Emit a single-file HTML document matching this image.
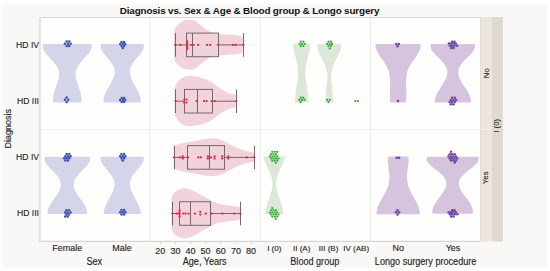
<!DOCTYPE html>
<html><head><meta charset="utf-8"><style>html,body{margin:0;padding:0;background:#fff;width:550px;height:271px;overflow:hidden}svg{display:block}</style></head>
<body><svg width="550" height="271" viewBox="0 0 550 271"><rect x="0" y="0" width="550" height="271" fill="#ffffff"/>
<rect x="2" y="3.5" width="545.5" height="264" fill="#f9f8f6"/>
<rect x="40" y="17.5" width="440.5" height="224" fill="#fefefd"/>
<line x1="149.75" y1="17.5" x2="149.75" y2="241.5" stroke="#ebebeb" stroke-width="1"/>
<line x1="260.25" y1="17.5" x2="260.25" y2="241.5" stroke="#ebebeb" stroke-width="1"/>
<line x1="370.5" y1="17.5" x2="370.5" y2="241.5" stroke="#ebebeb" stroke-width="1"/>
<line x1="39.5" y1="129.5" x2="480.5" y2="129.5" stroke="#ebebeb" stroke-width="1"/>
<path d="M40,241.5 L40,17.5 L480.5,17.5" fill="none" stroke="#d6d6d6" stroke-width="1.2"/>
<line x1="39.5" y1="241.3" x2="480.5" y2="241.3" stroke="#d6d6d6" stroke-width="1.2"/>
<rect x="480" y="17" width="12" height="224.5" fill="#ebe5de"/>
<rect x="492" y="17" width="11" height="224.5" fill="#dfd9cf"/>
<line x1="480" y1="129.5" x2="492" y2="129.5" stroke="#f4f0eb" stroke-width="1"/>
<line x1="480.5" y1="17" x2="480.5" y2="241.5" stroke="#e2ddd3" stroke-width="1"/>
<path d="M91.53,43.90 L91.73,44.88 L91.81,45.85 L91.77,46.83 L91.61,47.81 L91.34,48.78 L90.96,49.76 L90.47,50.74 L89.89,51.71 L89.23,52.69 L88.49,53.67 L87.69,54.64 L86.84,55.62 L85.96,56.60 L85.06,57.57 L84.14,58.55 L83.23,59.53 L82.34,60.50 L81.47,61.48 L80.63,62.46 L79.85,63.43 L79.11,64.41 L78.44,65.39 L77.83,66.36 L77.29,67.34 L76.82,68.32 L76.42,69.29 L76.09,70.27 L75.84,71.25 L75.66,72.22 L75.55,73.20 L75.50,74.18 L75.51,75.15 L75.58,76.13 L75.70,77.11 L75.87,78.08 L76.09,79.06 L76.33,80.04 L76.61,81.01 L76.92,81.99 L77.25,82.97 L77.59,83.94 L77.94,84.92 L78.29,85.90 L78.64,86.87 L78.99,87.85 L79.33,88.83 L79.66,89.80 L79.97,90.78 L80.25,91.76 L80.51,92.73 L80.75,93.71 L80.95,94.69 L81.12,95.66 L81.26,96.64 L81.36,97.62 L81.42,98.59 L81.45,99.57 L81.43,100.55 L81.38,101.52 L81.29,102.50 L53.21,102.50 L53.12,101.52 L53.07,100.55 L53.05,99.57 L53.08,98.59 L53.14,97.62 L53.24,96.64 L53.38,95.66 L53.55,94.69 L53.75,93.71 L53.99,92.73 L54.25,91.76 L54.53,90.78 L54.84,89.80 L55.17,88.83 L55.51,87.85 L55.86,86.87 L56.21,85.90 L56.56,84.92 L56.91,83.94 L57.25,82.97 L57.58,81.99 L57.89,81.01 L58.17,80.04 L58.41,79.06 L58.63,78.08 L58.80,77.11 L58.92,76.13 L58.99,75.15 L59.00,74.18 L58.95,73.20 L58.84,72.22 L58.66,71.25 L58.41,70.27 L58.08,69.29 L57.68,68.32 L57.21,67.34 L56.67,66.36 L56.06,65.39 L55.39,64.41 L54.65,63.43 L53.87,62.46 L53.03,61.48 L52.16,60.50 L51.27,59.53 L50.36,58.55 L49.44,57.57 L48.54,56.60 L47.66,55.62 L46.81,54.64 L46.01,53.67 L45.27,52.69 L44.61,51.71 L44.03,50.74 L43.54,49.76 L43.16,48.78 L42.89,47.81 L42.73,46.83 L42.69,45.85 L42.77,44.88 L42.97,43.90 Z" fill="#d5d5e9"/>
<path d="M143.60,44.00 L143.76,44.97 L143.80,45.95 L143.73,46.92 L143.54,47.89 L143.25,48.87 L142.85,49.84 L142.36,50.81 L141.78,51.79 L141.13,52.76 L140.41,53.73 L139.64,54.71 L138.84,55.68 L138.01,56.65 L137.18,57.63 L136.34,58.60 L135.52,59.57 L134.72,60.55 L133.96,61.52 L133.25,62.49 L132.59,63.47 L131.99,64.44 L131.46,65.41 L131.01,66.39 L130.62,67.36 L130.31,68.33 L130.08,69.31 L129.93,70.28 L129.85,71.25 L129.84,72.23 L129.91,73.20 L130.04,74.17 L130.24,75.15 L130.49,76.12 L130.80,77.09 L131.16,78.07 L131.56,79.04 L132.01,80.01 L132.48,80.99 L132.98,81.96 L133.50,82.93 L134.04,83.91 L134.59,84.88 L135.15,85.85 L135.70,86.83 L136.25,87.80 L136.78,88.77 L137.30,89.75 L137.80,90.72 L138.28,91.69 L138.72,92.67 L139.13,93.64 L139.50,94.61 L139.83,95.59 L140.11,96.56 L140.35,97.53 L140.54,98.51 L140.68,99.48 L140.76,100.45 L140.79,101.43 L140.77,102.40 L103.63,102.40 L103.61,101.43 L103.64,100.45 L103.72,99.48 L103.86,98.51 L104.05,97.53 L104.29,96.56 L104.57,95.59 L104.90,94.61 L105.27,93.64 L105.68,92.67 L106.12,91.69 L106.60,90.72 L107.10,89.75 L107.62,88.77 L108.15,87.80 L108.70,86.83 L109.25,85.85 L109.81,84.88 L110.36,83.91 L110.90,82.93 L111.42,81.96 L111.92,80.99 L112.39,80.01 L112.84,79.04 L113.24,78.07 L113.60,77.09 L113.91,76.12 L114.16,75.15 L114.36,74.17 L114.49,73.20 L114.56,72.23 L114.55,71.25 L114.47,70.28 L114.32,69.31 L114.09,68.33 L113.78,67.36 L113.39,66.39 L112.94,65.41 L112.41,64.44 L111.81,63.47 L111.15,62.49 L110.44,61.52 L109.68,60.55 L108.88,59.57 L108.06,58.60 L107.22,57.63 L106.39,56.65 L105.56,55.68 L104.76,54.71 L103.99,53.73 L103.27,52.76 L102.62,51.79 L102.04,50.81 L101.55,49.84 L101.15,48.87 L100.86,47.89 L100.67,46.92 L100.60,45.95 L100.64,44.97 L100.80,44.00 Z" fill="#d5d5e9"/>
<path d="M89.68,156.80 L89.88,157.75 L89.96,158.71 L89.90,159.66 L89.72,160.61 L89.42,161.57 L89.00,162.52 L88.46,163.47 L87.83,164.43 L87.11,165.38 L86.32,166.33 L85.46,167.29 L84.56,168.24 L83.62,169.19 L82.66,170.15 L81.71,171.10 L80.76,172.05 L79.83,173.01 L78.94,173.96 L78.10,174.91 L77.31,175.87 L76.59,176.82 L75.94,177.77 L75.36,178.73 L74.87,179.68 L74.46,180.63 L74.14,181.59 L73.91,182.54 L73.76,183.49 L73.70,184.45 L73.72,185.40 L73.82,186.35 L74.00,187.31 L74.26,188.26 L74.58,189.21 L74.97,190.17 L75.41,191.12 L75.91,192.07 L76.45,193.03 L77.04,193.98 L77.66,194.93 L78.31,195.89 L78.99,196.84 L79.67,197.79 L80.37,198.75 L81.06,199.70 L81.75,200.65 L82.42,201.61 L83.07,202.56 L83.69,203.51 L84.28,204.47 L84.83,205.42 L85.33,206.37 L85.78,207.33 L86.16,208.28 L86.49,209.23 L86.75,210.19 L86.94,211.14 L87.06,212.09 L87.10,213.05 L87.08,214.00 L47.52,214.00 L47.50,213.05 L47.54,212.09 L47.66,211.14 L47.85,210.19 L48.11,209.23 L48.44,208.28 L48.82,207.33 L49.27,206.37 L49.77,205.42 L50.32,204.47 L50.91,203.51 L51.53,202.56 L52.18,201.61 L52.85,200.65 L53.54,199.70 L54.23,198.75 L54.93,197.79 L55.61,196.84 L56.29,195.89 L56.94,194.93 L57.56,193.98 L58.15,193.03 L58.69,192.07 L59.19,191.12 L59.63,190.17 L60.02,189.21 L60.34,188.26 L60.60,187.31 L60.78,186.35 L60.88,185.40 L60.90,184.45 L60.84,183.49 L60.69,182.54 L60.46,181.59 L60.14,180.63 L59.73,179.68 L59.24,178.73 L58.66,177.77 L58.01,176.82 L57.29,175.87 L56.50,174.91 L55.66,173.96 L54.77,173.01 L53.84,172.05 L52.89,171.10 L51.94,170.15 L50.98,169.19 L50.04,168.24 L49.14,167.29 L48.28,166.33 L47.49,165.38 L46.77,164.43 L46.14,163.47 L45.60,162.52 L45.18,161.57 L44.88,160.61 L44.70,159.66 L44.64,158.71 L44.72,157.75 L44.92,156.80 Z" fill="#d5d5e9"/>
<path d="M143.58,156.70 L143.75,157.66 L143.80,158.61 L143.73,159.57 L143.55,160.53 L143.26,161.48 L142.86,162.44 L142.37,163.40 L141.79,164.35 L141.14,165.31 L140.42,166.27 L139.65,167.22 L138.85,168.18 L138.02,169.14 L137.18,170.09 L136.35,171.05 L135.53,172.01 L134.74,172.96 L133.99,173.92 L133.28,174.88 L132.63,175.83 L132.04,176.79 L131.52,177.75 L131.07,178.70 L130.70,179.66 L130.40,180.62 L130.17,181.57 L130.02,182.53 L129.94,183.49 L129.93,184.44 L129.99,185.40 L130.11,186.36 L130.29,187.31 L130.53,188.27 L130.81,189.23 L131.14,190.18 L131.52,191.14 L131.92,192.10 L132.36,193.05 L132.83,194.01 L133.31,194.97 L133.81,195.92 L134.32,196.88 L134.84,197.84 L135.36,198.79 L135.87,199.75 L136.38,200.71 L136.88,201.66 L137.36,202.62 L137.83,203.58 L138.27,204.53 L138.68,205.49 L139.07,206.45 L139.42,207.40 L139.73,208.36 L140.01,209.32 L140.25,210.27 L140.45,211.23 L140.60,212.19 L140.71,213.14 L140.77,214.10 L103.63,214.10 L103.69,213.14 L103.80,212.19 L103.95,211.23 L104.15,210.27 L104.39,209.32 L104.67,208.36 L104.98,207.40 L105.33,206.45 L105.72,205.49 L106.13,204.53 L106.57,203.58 L107.04,202.62 L107.52,201.66 L108.02,200.71 L108.53,199.75 L109.04,198.79 L109.56,197.84 L110.08,196.88 L110.59,195.92 L111.09,194.97 L111.57,194.01 L112.04,193.05 L112.48,192.10 L112.88,191.14 L113.26,190.18 L113.59,189.23 L113.87,188.27 L114.11,187.31 L114.29,186.36 L114.41,185.40 L114.47,184.44 L114.46,183.49 L114.38,182.53 L114.23,181.57 L114.00,180.62 L113.70,179.66 L113.33,178.70 L112.88,177.75 L112.36,176.79 L111.77,175.83 L111.12,174.88 L110.41,173.92 L109.66,172.96 L108.87,172.01 L108.05,171.05 L107.22,170.09 L106.38,169.14 L105.55,168.18 L104.75,167.22 L103.98,166.27 L103.26,165.31 L102.61,164.35 L102.03,163.40 L101.54,162.44 L101.14,161.48 L100.85,160.53 L100.67,159.57 L100.60,158.61 L100.65,157.66 L100.82,156.70 Z" fill="#d5d5e9"/>
<path d="M174.10,30.70 C174.28,30.27 174.72,28.93 175.20,28.10 C175.68,27.27 176.20,26.57 177.00,25.70 C177.80,24.83 178.92,23.73 180.00,22.90 C181.08,22.07 182.33,21.22 183.50,20.70 C184.67,20.18 185.75,19.97 187.00,19.80 C188.25,19.63 189.83,19.63 191.00,19.70 C192.17,19.77 193.00,19.78 194.00,20.20 C195.00,20.62 195.92,21.38 197.00,22.20 C198.08,23.02 199.33,24.12 200.50,25.10 C201.67,26.08 203.00,27.33 204.00,28.10 C205.00,28.87 205.60,29.12 206.50,29.70 C207.40,30.28 208.15,31.03 209.40,31.60 C210.65,32.17 212.30,32.70 214.00,33.10 C215.70,33.50 217.80,33.78 219.60,34.00 C221.40,34.22 222.72,34.27 224.80,34.40 C226.88,34.53 229.90,34.62 232.10,34.80 C234.30,34.98 236.52,35.27 238.00,35.50 C239.48,35.73 240.23,35.97 241.00,36.20 C241.77,36.43 242.33,36.78 242.60,36.90 L242.60,52.50 C242.33,52.62 241.77,52.97 241.00,53.20 C240.23,53.43 239.48,53.67 238.00,53.90 C236.52,54.13 234.30,54.42 232.10,54.60 C229.90,54.78 226.88,54.87 224.80,55.00 C222.72,55.13 221.40,55.18 219.60,55.40 C217.80,55.62 215.70,55.90 214.00,56.30 C212.30,56.70 210.65,57.23 209.40,57.80 C208.15,58.37 207.40,59.12 206.50,59.70 C205.60,60.28 205.00,60.53 204.00,61.30 C203.00,62.07 201.67,63.32 200.50,64.30 C199.33,65.28 198.08,66.38 197.00,67.20 C195.92,68.02 195.00,68.78 194.00,69.20 C193.00,69.62 192.17,69.63 191.00,69.70 C189.83,69.77 188.25,69.77 187.00,69.60 C185.75,69.43 184.67,69.22 183.50,68.70 C182.33,68.18 181.08,67.33 180.00,66.50 C178.92,65.67 177.80,64.57 177.00,63.70 C176.20,62.83 175.68,62.13 175.20,61.30 C174.72,60.47 174.28,59.13 174.10,58.70 Z" fill="#f3d3db"/>
<path d="M174.60,88.10 C174.78,87.60 175.18,86.12 175.70,85.10 C176.22,84.08 176.93,82.95 177.70,82.00 C178.47,81.05 179.35,80.15 180.30,79.40 C181.25,78.65 182.37,78.02 183.40,77.50 C184.43,76.98 185.28,76.57 186.50,76.30 C187.72,76.03 189.15,75.85 190.70,75.90 C192.25,75.95 194.08,76.30 195.80,76.60 C197.52,76.90 199.30,77.22 201.00,77.70 C202.70,78.18 204.58,78.97 206.00,79.50 C207.42,80.03 208.32,80.30 209.50,80.90 C210.68,81.50 211.92,82.30 213.10,83.10 C214.28,83.90 215.42,84.82 216.60,85.70 C217.78,86.58 219.02,87.58 220.20,88.40 C221.38,89.22 222.53,89.93 223.70,90.60 C224.87,91.27 226.02,91.88 227.20,92.40 C228.38,92.92 229.62,93.33 230.80,93.70 C231.98,94.07 233.47,94.40 234.30,94.60 C235.13,94.80 235.55,94.85 235.80,94.90 L235.80,107.30 C235.55,107.35 235.13,107.40 234.30,107.60 C233.47,107.80 231.98,108.13 230.80,108.50 C229.62,108.87 228.38,109.28 227.20,109.80 C226.02,110.32 224.87,110.93 223.70,111.60 C222.53,112.27 221.38,112.98 220.20,113.80 C219.02,114.62 217.78,115.62 216.60,116.50 C215.42,117.38 214.28,118.30 213.10,119.10 C211.92,119.90 210.68,120.70 209.50,121.30 C208.32,121.90 207.42,122.17 206.00,122.70 C204.58,123.23 202.70,124.02 201.00,124.50 C199.30,124.98 197.52,125.30 195.80,125.60 C194.08,125.90 192.25,126.25 190.70,126.30 C189.15,126.35 187.72,126.17 186.50,125.90 C185.28,125.63 184.43,125.22 183.40,124.70 C182.37,124.18 181.25,123.55 180.30,122.80 C179.35,122.05 178.47,121.15 177.70,120.20 C176.93,119.25 176.22,118.12 175.70,117.10 C175.18,116.08 174.78,114.60 174.60,114.10 Z" fill="#f3d3db"/>
<path d="M173.80,147.30 C174.03,147.02 174.45,146.15 175.20,145.60 C175.95,145.05 176.93,144.43 178.30,144.00 C179.67,143.57 181.68,143.33 183.40,143.00 C185.12,142.67 186.70,142.32 188.60,142.00 C190.50,141.68 192.73,141.48 194.80,141.10 C196.87,140.72 198.93,140.10 201.00,139.70 C203.07,139.30 205.37,138.95 207.20,138.70 C209.03,138.45 210.52,138.22 212.00,138.20 C213.48,138.18 214.72,138.35 216.10,138.60 C217.48,138.85 218.92,139.23 220.30,139.70 C221.68,140.17 223.03,140.73 224.40,141.40 C225.77,142.07 227.12,142.93 228.50,143.70 C229.88,144.47 231.13,145.23 232.70,146.00 C234.27,146.77 236.18,147.62 237.90,148.30 C239.62,148.98 241.28,149.58 243.00,150.10 C244.72,150.62 246.47,150.97 248.20,151.40 C249.93,151.83 252.33,152.43 253.40,152.70 C254.47,152.97 254.40,152.95 254.60,153.00 L254.60,161.40 C254.40,161.45 254.47,161.43 253.40,161.70 C252.33,161.97 249.93,162.57 248.20,163.00 C246.47,163.43 244.72,163.78 243.00,164.30 C241.28,164.82 239.62,165.42 237.90,166.10 C236.18,166.78 234.27,167.63 232.70,168.40 C231.13,169.17 229.88,169.93 228.50,170.70 C227.12,171.47 225.77,172.33 224.40,173.00 C223.03,173.67 221.68,174.23 220.30,174.70 C218.92,175.17 217.48,175.55 216.10,175.80 C214.72,176.05 213.48,176.22 212.00,176.20 C210.52,176.18 209.03,175.95 207.20,175.70 C205.37,175.45 203.07,175.10 201.00,174.70 C198.93,174.30 196.87,173.68 194.80,173.30 C192.73,172.92 190.50,172.72 188.60,172.40 C186.70,172.08 185.12,171.73 183.40,171.40 C181.68,171.07 179.67,170.83 178.30,170.40 C176.93,169.97 175.95,169.35 175.20,168.80 C174.45,168.25 174.03,167.38 173.80,167.10 Z" fill="#f3d3db"/>
<path d="M171.60,199.05 C171.72,198.45 171.82,196.53 172.30,195.45 C172.78,194.37 173.62,193.42 174.50,192.55 C175.38,191.68 176.45,190.88 177.60,190.25 C178.75,189.62 180.17,189.07 181.40,188.75 C182.63,188.43 183.65,188.28 185.00,188.35 C186.35,188.42 187.92,188.65 189.50,189.15 C191.08,189.65 192.83,190.50 194.50,191.35 C196.17,192.20 197.83,193.33 199.50,194.25 C201.17,195.17 202.88,195.97 204.50,196.85 C206.12,197.73 207.70,198.72 209.20,199.55 C210.70,200.38 212.08,201.22 213.50,201.85 C214.92,202.48 216.28,202.93 217.70,203.35 C219.12,203.77 220.43,204.03 222.00,204.35 C223.57,204.67 225.40,204.98 227.10,205.25 C228.80,205.52 230.50,205.73 232.20,205.95 C233.90,206.17 236.00,206.40 237.30,206.55 C238.60,206.70 239.55,206.80 240.00,206.85 L240.00,219.85 C239.55,219.90 238.60,220.00 237.30,220.15 C236.00,220.30 233.90,220.53 232.20,220.75 C230.50,220.97 228.80,221.18 227.10,221.45 C225.40,221.72 223.57,222.03 222.00,222.35 C220.43,222.67 219.12,222.93 217.70,223.35 C216.28,223.77 214.92,224.22 213.50,224.85 C212.08,225.48 210.70,226.32 209.20,227.15 C207.70,227.98 206.12,228.97 204.50,229.85 C202.88,230.73 201.17,231.53 199.50,232.45 C197.83,233.37 196.17,234.50 194.50,235.35 C192.83,236.20 191.08,237.05 189.50,237.55 C187.92,238.05 186.35,238.28 185.00,238.35 C183.65,238.42 182.63,238.27 181.40,237.95 C180.17,237.63 178.75,237.08 177.60,236.45 C176.45,235.82 175.38,235.02 174.50,234.15 C173.62,233.28 172.78,232.33 172.30,231.25 C171.82,230.17 171.72,228.25 171.60,227.65 Z" fill="#f3d3db"/>
<line x1="175.5" y1="44.9" x2="186.5" y2="44.9" stroke="#76676c" stroke-width="1"/><line x1="218.5" y1="44.9" x2="243.5" y2="44.9" stroke="#76676c" stroke-width="1"/><line x1="175.5" y1="33.099999999999994" x2="175.5" y2="56.7" stroke="#76676c" stroke-width="1"/><line x1="243.5" y1="33.099999999999994" x2="243.5" y2="56.7" stroke="#76676c" stroke-width="1"/><rect x="186.5" y="33.099999999999994" width="32.0" height="23.6" fill="none" stroke="#76676c" stroke-width="1"/><line x1="192.5" y1="33.099999999999994" x2="192.5" y2="56.7" stroke="#76676c" stroke-width="1"/>
<line x1="175.5" y1="101.2" x2="184.5" y2="101.2" stroke="#76676c" stroke-width="1"/><line x1="212.5" y1="101.2" x2="236.5" y2="101.2" stroke="#76676c" stroke-width="1"/><line x1="175.5" y1="89.4" x2="175.5" y2="113.0" stroke="#76676c" stroke-width="1"/><line x1="236.5" y1="89.4" x2="236.5" y2="113.0" stroke="#76676c" stroke-width="1"/><rect x="184.5" y="89.4" width="28.0" height="23.6" fill="none" stroke="#76676c" stroke-width="1"/><line x1="197.5" y1="89.4" x2="197.5" y2="113.0" stroke="#76676c" stroke-width="1"/>
<line x1="174.5" y1="157.4" x2="187.5" y2="157.4" stroke="#76676c" stroke-width="1"/><line x1="224.5" y1="157.4" x2="254.5" y2="157.4" stroke="#76676c" stroke-width="1"/><line x1="174.5" y1="145.6" x2="174.5" y2="169.20000000000002" stroke="#76676c" stroke-width="1"/><line x1="254.5" y1="145.6" x2="254.5" y2="169.20000000000002" stroke="#76676c" stroke-width="1"/><rect x="187.5" y="145.6" width="37.0" height="23.6" fill="none" stroke="#76676c" stroke-width="1"/><line x1="209.5" y1="145.6" x2="209.5" y2="169.20000000000002" stroke="#76676c" stroke-width="1"/>
<line x1="172.5" y1="213.5" x2="179.5" y2="213.5" stroke="#76676c" stroke-width="1"/><line x1="210.5" y1="213.5" x2="240.5" y2="213.5" stroke="#76676c" stroke-width="1"/><line x1="172.5" y1="201.7" x2="172.5" y2="225.3" stroke="#76676c" stroke-width="1"/><line x1="240.5" y1="201.7" x2="240.5" y2="225.3" stroke="#76676c" stroke-width="1"/><rect x="179.5" y="201.7" width="31.0" height="23.6" fill="none" stroke="#76676c" stroke-width="1"/><line x1="190.5" y1="201.7" x2="190.5" y2="225.3" stroke="#76676c" stroke-width="1"/>
<circle cx="175.30" cy="44.90" r="1.15" fill="#d62a48"/><circle cx="180.40" cy="44.90" r="1.15" fill="#d62a48"/><circle cx="190.70" cy="44.90" r="1.15" fill="#d62a48"/><circle cx="193.60" cy="44.90" r="1.15" fill="#d62a48"/><circle cx="198.10" cy="44.90" r="1.15" fill="#d62a48"/><circle cx="207.00" cy="44.90" r="1.15" fill="#d62a48"/><circle cx="210.30" cy="44.90" r="1.15" fill="#d62a48"/><circle cx="218.10" cy="44.90" r="1.15" fill="#d62a48"/><circle cx="232.80" cy="44.90" r="1.15" fill="#d62a48"/><circle cx="235.60" cy="44.90" r="1.15" fill="#d62a48"/><circle cx="243.30" cy="44.90" r="1.15" fill="#d62a48"/><circle cx="187.20" cy="41.50" r="1.15" fill="#d62a48"/><circle cx="187.20" cy="43.40" r="1.15" fill="#d62a48"/><circle cx="187.20" cy="45.30" r="1.15" fill="#d62a48"/><circle cx="187.20" cy="47.20" r="1.15" fill="#d62a48"/><circle cx="187.20" cy="49.00" r="1.15" fill="#d62a48"/><circle cx="175.50" cy="101.10" r="1.15" fill="#d62a48"/><circle cx="196.60" cy="101.10" r="1.15" fill="#d62a48"/><circle cx="204.10" cy="101.10" r="1.15" fill="#d62a48"/><circle cx="206.60" cy="101.10" r="1.15" fill="#d62a48"/><circle cx="211.60" cy="101.10" r="1.15" fill="#d62a48"/><circle cx="214.70" cy="101.10" r="1.15" fill="#d62a48"/><circle cx="236.20" cy="101.10" r="1.15" fill="#d62a48"/><circle cx="184.30" cy="99.60" r="1.15" fill="#d62a48"/><circle cx="186.50" cy="99.60" r="1.15" fill="#d62a48"/><circle cx="184.30" cy="102.60" r="1.15" fill="#d62a48"/><circle cx="186.50" cy="102.60" r="1.15" fill="#d62a48"/><circle cx="174.10" cy="157.40" r="1.15" fill="#d62a48"/><circle cx="179.80" cy="157.40" r="1.15" fill="#d62a48"/><circle cx="188.00" cy="157.40" r="1.15" fill="#d62a48"/><circle cx="198.30" cy="157.40" r="1.15" fill="#d62a48"/><circle cx="200.80" cy="157.40" r="1.15" fill="#d62a48"/><circle cx="210.90" cy="157.40" r="1.15" fill="#d62a48"/><circle cx="246.60" cy="157.40" r="1.15" fill="#d62a48"/><circle cx="254.30" cy="157.40" r="1.15" fill="#d62a48"/><circle cx="182.80" cy="156.30" r="1.15" fill="#d62a48"/><circle cx="182.80" cy="158.50" r="1.15" fill="#d62a48"/><circle cx="207.90" cy="156.30" r="1.15" fill="#d62a48"/><circle cx="207.90" cy="158.50" r="1.15" fill="#d62a48"/><circle cx="214.60" cy="156.30" r="1.15" fill="#d62a48"/><circle cx="214.60" cy="158.50" r="1.15" fill="#d62a48"/><circle cx="222.30" cy="156.30" r="1.15" fill="#d62a48"/><circle cx="222.30" cy="158.50" r="1.15" fill="#d62a48"/><circle cx="228.30" cy="156.30" r="1.15" fill="#d62a48"/><circle cx="228.30" cy="158.50" r="1.15" fill="#d62a48"/><circle cx="172.40" cy="213.60" r="1.15" fill="#d62a48"/><circle cx="176.80" cy="213.60" r="1.15" fill="#d62a48"/><circle cx="183.30" cy="213.60" r="1.15" fill="#d62a48"/><circle cx="185.50" cy="213.60" r="1.15" fill="#d62a48"/><circle cx="188.40" cy="213.60" r="1.15" fill="#d62a48"/><circle cx="194.90" cy="213.60" r="1.15" fill="#d62a48"/><circle cx="205.80" cy="213.60" r="1.15" fill="#d62a48"/><circle cx="211.60" cy="213.60" r="1.15" fill="#d62a48"/><circle cx="222.50" cy="213.60" r="1.15" fill="#d62a48"/><circle cx="234.20" cy="213.60" r="1.15" fill="#d62a48"/><circle cx="240.40" cy="213.60" r="1.15" fill="#d62a48"/><circle cx="179.60" cy="210.30" r="1.15" fill="#d62a48"/><circle cx="179.60" cy="212.30" r="1.15" fill="#d62a48"/><circle cx="179.60" cy="214.50" r="1.15" fill="#d62a48"/><circle cx="179.60" cy="216.70" r="1.15" fill="#d62a48"/><circle cx="200.30" cy="211.80" r="1.15" fill="#d62a48"/><circle cx="200.30" cy="214.60" r="1.15" fill="#d62a48"/>
<path d="M310.22,44.10 L310.22,45.08 L310.17,46.05 L310.09,47.02 L309.98,48.00 L309.84,48.98 L309.66,49.95 L309.47,50.92 L309.25,51.90 L309.01,52.88 L308.76,53.85 L308.49,54.83 L308.22,55.80 L307.95,56.77 L307.67,57.75 L307.40,58.73 L307.14,59.70 L306.89,60.67 L306.65,61.65 L306.42,62.62 L306.22,63.60 L306.03,64.58 L305.87,65.55 L305.72,66.53 L305.60,67.50 L305.50,68.47 L305.43,69.45 L305.37,70.42 L305.34,71.40 L305.33,72.38 L305.34,73.35 L305.37,74.33 L305.42,75.30 L305.49,76.28 L305.57,77.25 L305.66,78.22 L305.77,79.20 L305.88,80.17 L306.01,81.15 L306.14,82.12 L306.28,83.10 L306.43,84.07 L306.57,85.05 L306.72,86.02 L306.87,87.00 L307.02,87.97 L307.17,88.95 L307.31,89.92 L307.45,90.90 L307.59,91.88 L307.71,92.85 L307.83,93.82 L307.95,94.80 L308.05,95.77 L308.14,96.75 L308.23,97.72 L308.30,98.70 L308.36,99.67 L308.41,100.65 L308.45,101.62 L308.47,102.60 L294.93,102.60 L294.95,101.62 L294.99,100.65 L295.04,99.67 L295.10,98.70 L295.17,97.72 L295.26,96.75 L295.35,95.77 L295.45,94.80 L295.57,93.82 L295.69,92.85 L295.81,91.88 L295.95,90.90 L296.09,89.92 L296.23,88.95 L296.38,87.97 L296.53,87.00 L296.68,86.02 L296.83,85.05 L296.97,84.07 L297.12,83.10 L297.26,82.12 L297.39,81.15 L297.52,80.17 L297.63,79.20 L297.74,78.22 L297.83,77.25 L297.91,76.28 L297.98,75.30 L298.03,74.33 L298.06,73.35 L298.07,72.38 L298.06,71.40 L298.03,70.42 L297.97,69.45 L297.90,68.47 L297.80,67.50 L297.68,66.53 L297.53,65.55 L297.37,64.58 L297.18,63.60 L296.98,62.62 L296.75,61.65 L296.51,60.67 L296.26,59.70 L296.00,58.73 L295.73,57.75 L295.45,56.77 L295.18,55.80 L294.91,54.83 L294.64,53.85 L294.39,52.88 L294.15,51.90 L293.93,50.92 L293.74,49.95 L293.56,48.98 L293.42,48.00 L293.31,47.02 L293.23,46.05 L293.18,45.08 L293.18,44.10 Z" fill="#dce7d7"/>
<path d="M341.19,44.20 L341.22,45.17 L341.18,46.14 L341.08,47.12 L340.93,48.09 L340.71,49.06 L340.44,50.03 L340.13,51.00 L339.76,51.97 L339.36,52.95 L338.93,53.92 L338.47,54.89 L337.98,55.86 L337.49,56.83 L336.98,57.80 L336.47,58.78 L335.97,59.75 L335.47,60.72 L334.99,61.69 L334.53,62.66 L334.08,63.63 L333.67,64.61 L333.28,65.58 L332.92,66.55 L332.59,67.52 L332.30,68.49 L332.03,69.46 L331.81,70.44 L331.61,71.41 L331.45,72.38 L331.31,73.35 L331.21,74.32 L331.14,75.29 L331.09,76.27 L331.07,77.24 L331.07,78.21 L331.09,79.18 L331.13,80.15 L331.19,81.12 L331.27,82.09 L331.35,83.07 L331.45,84.04 L331.56,85.01 L331.67,85.98 L331.79,86.95 L331.91,87.93 L332.03,88.90 L332.14,89.87 L332.26,90.84 L332.37,91.81 L332.48,92.78 L332.58,93.75 L332.67,94.73 L332.74,95.70 L332.81,96.67 L332.87,97.64 L332.91,98.61 L332.93,99.59 L332.95,100.56 L332.95,101.53 L332.93,102.50 L325.47,102.50 L325.45,101.53 L325.45,100.56 L325.47,99.59 L325.49,98.61 L325.53,97.64 L325.59,96.67 L325.66,95.70 L325.73,94.73 L325.82,93.75 L325.92,92.78 L326.03,91.81 L326.14,90.84 L326.26,89.87 L326.37,88.90 L326.49,87.93 L326.61,86.95 L326.73,85.98 L326.84,85.01 L326.95,84.04 L327.05,83.07 L327.13,82.09 L327.21,81.12 L327.27,80.15 L327.31,79.18 L327.33,78.21 L327.33,77.24 L327.31,76.27 L327.26,75.29 L327.19,74.32 L327.09,73.35 L326.95,72.38 L326.79,71.41 L326.59,70.44 L326.37,69.46 L326.10,68.49 L325.81,67.52 L325.48,66.55 L325.12,65.58 L324.73,64.61 L324.32,63.63 L323.87,62.66 L323.41,61.69 L322.93,60.72 L322.43,59.75 L321.93,58.78 L321.42,57.80 L320.91,56.83 L320.42,55.86 L319.93,54.89 L319.47,53.92 L319.04,52.95 L318.64,51.97 L318.27,51.00 L317.96,50.03 L317.69,49.06 L317.47,48.09 L317.32,47.12 L317.22,46.14 L317.18,45.17 L317.21,44.20 Z" fill="#dce7d7"/>
<path d="M284.98,156.60 L284.86,157.56 L284.68,158.52 L284.44,159.47 L284.16,160.43 L283.83,161.39 L283.45,162.35 L283.05,163.31 L282.61,164.27 L282.16,165.22 L281.68,166.18 L281.20,167.14 L280.72,168.10 L280.25,169.06 L279.78,170.02 L279.33,170.97 L278.89,171.93 L278.48,172.89 L278.10,173.85 L277.75,174.81 L277.43,175.77 L277.14,176.72 L276.89,177.68 L276.68,178.64 L276.50,179.60 L276.36,180.56 L276.26,181.52 L276.19,182.47 L276.15,183.43 L276.16,184.39 L276.19,185.35 L276.26,186.31 L276.36,187.27 L276.49,188.22 L276.65,189.18 L276.84,190.14 L277.05,191.10 L277.29,192.06 L277.54,193.02 L277.82,193.97 L278.12,194.93 L278.44,195.89 L278.76,196.85 L279.10,197.81 L279.45,198.77 L279.80,199.72 L280.15,200.68 L280.50,201.64 L280.84,202.60 L281.17,203.56 L281.49,204.52 L281.79,205.47 L282.08,206.43 L282.33,207.39 L282.57,208.35 L282.77,209.31 L282.94,210.27 L283.08,211.22 L283.18,212.18 L283.24,213.14 L283.26,214.10 L265.34,214.10 L265.36,213.14 L265.42,212.18 L265.52,211.22 L265.66,210.27 L265.83,209.31 L266.03,208.35 L266.27,207.39 L266.52,206.43 L266.81,205.47 L267.11,204.52 L267.43,203.56 L267.76,202.60 L268.10,201.64 L268.45,200.68 L268.80,199.72 L269.15,198.77 L269.50,197.81 L269.84,196.85 L270.16,195.89 L270.48,194.93 L270.78,193.97 L271.06,193.02 L271.31,192.06 L271.55,191.10 L271.76,190.14 L271.95,189.18 L272.11,188.22 L272.24,187.27 L272.34,186.31 L272.41,185.35 L272.44,184.39 L272.45,183.43 L272.41,182.47 L272.34,181.52 L272.24,180.56 L272.10,179.60 L271.92,178.64 L271.71,177.68 L271.46,176.72 L271.17,175.77 L270.85,174.81 L270.50,173.85 L270.12,172.89 L269.71,171.93 L269.27,170.97 L268.82,170.02 L268.35,169.06 L267.88,168.10 L267.40,167.14 L266.92,166.18 L266.44,165.22 L265.99,164.27 L265.55,163.31 L265.15,162.35 L264.77,161.39 L264.44,160.43 L264.16,159.47 L263.92,158.52 L263.74,157.56 L263.62,156.60 Z" fill="#dce7d7"/>
<path d="M420.45,44.00 L420.56,44.98 L420.57,45.95 L420.50,46.93 L420.34,47.91 L420.10,48.88 L419.78,49.86 L419.39,50.84 L418.93,51.81 L418.41,52.79 L417.85,53.77 L417.24,54.74 L416.60,55.72 L415.93,56.70 L415.25,57.67 L414.56,58.65 L413.87,59.63 L413.18,60.60 L412.51,61.58 L411.86,62.56 L411.23,63.53 L410.63,64.51 L410.07,65.49 L409.54,66.46 L409.05,67.44 L408.61,68.42 L408.20,69.39 L407.83,70.37 L407.51,71.35 L407.22,72.32 L406.98,73.30 L406.77,74.28 L406.59,75.25 L406.45,76.23 L406.33,77.21 L406.24,78.18 L406.18,79.16 L406.13,80.14 L406.11,81.11 L406.09,82.09 L406.10,83.07 L406.11,84.04 L406.13,85.02 L406.15,86.00 L406.18,86.97 L406.21,87.95 L406.24,88.93 L406.27,89.90 L406.30,90.88 L406.32,91.86 L406.34,92.83 L406.35,93.81 L406.36,94.79 L406.36,95.76 L406.35,96.74 L406.33,97.72 L406.31,98.69 L406.27,99.67 L406.23,100.65 L406.18,101.62 L406.12,102.60 L390.08,102.60 L390.02,101.62 L389.97,100.65 L389.93,99.67 L389.89,98.69 L389.87,97.72 L389.85,96.74 L389.84,95.76 L389.84,94.79 L389.85,93.81 L389.86,92.83 L389.88,91.86 L389.90,90.88 L389.93,89.90 L389.96,88.93 L389.99,87.95 L390.02,86.97 L390.05,86.00 L390.07,85.02 L390.09,84.04 L390.10,83.07 L390.11,82.09 L390.09,81.11 L390.07,80.14 L390.02,79.16 L389.96,78.18 L389.87,77.21 L389.75,76.23 L389.61,75.25 L389.43,74.28 L389.22,73.30 L388.98,72.32 L388.69,71.35 L388.37,70.37 L388.00,69.39 L387.59,68.42 L387.15,67.44 L386.66,66.46 L386.13,65.49 L385.57,64.51 L384.97,63.53 L384.34,62.56 L383.69,61.58 L383.02,60.60 L382.33,59.63 L381.64,58.65 L380.95,57.67 L380.27,56.70 L379.60,55.72 L378.96,54.74 L378.35,53.77 L377.79,52.79 L377.27,51.81 L376.81,50.84 L376.42,49.86 L376.10,48.88 L375.86,47.91 L375.70,46.93 L375.63,45.95 L375.64,44.98 L375.75,44.00 Z" fill="#d6c4de"/>
<path d="M474.59,43.90 L474.85,44.88 L474.96,45.86 L474.93,46.84 L474.76,47.81 L474.45,48.79 L474.01,49.77 L473.45,50.75 L472.78,51.73 L472.02,52.70 L471.17,53.68 L470.26,54.66 L469.29,55.64 L468.30,56.62 L467.29,57.60 L466.28,58.57 L465.29,59.55 L464.33,60.53 L463.41,61.51 L462.55,62.49 L461.75,63.47 L461.02,64.44 L460.38,65.42 L459.81,66.40 L459.34,67.38 L458.95,68.36 L458.65,69.34 L458.44,70.31 L458.31,71.29 L458.27,72.27 L458.31,73.25 L458.42,74.23 L458.61,75.21 L458.87,76.19 L459.19,77.16 L459.56,78.14 L459.99,79.12 L460.46,80.10 L460.98,81.08 L461.53,82.05 L462.11,83.03 L462.72,84.01 L463.34,84.99 L463.98,85.97 L464.62,86.95 L465.26,87.92 L465.89,88.90 L466.51,89.88 L467.11,90.86 L467.69,91.84 L468.23,92.82 L468.73,93.79 L469.20,94.77 L469.61,95.75 L469.98,96.73 L470.28,97.71 L470.53,98.69 L470.71,99.66 L470.84,100.64 L470.89,101.62 L470.88,102.60 L434.72,102.60 L434.71,101.62 L434.76,100.64 L434.89,99.66 L435.07,98.69 L435.32,97.71 L435.62,96.73 L435.99,95.75 L436.40,94.77 L436.87,93.79 L437.37,92.82 L437.91,91.84 L438.49,90.86 L439.09,89.88 L439.71,88.90 L440.34,87.92 L440.98,86.95 L441.62,85.97 L442.26,84.99 L442.88,84.01 L443.49,83.03 L444.07,82.05 L444.62,81.08 L445.14,80.10 L445.61,79.12 L446.04,78.14 L446.41,77.16 L446.73,76.19 L446.99,75.21 L447.18,74.23 L447.29,73.25 L447.33,72.27 L447.29,71.29 L447.16,70.31 L446.95,69.34 L446.65,68.36 L446.26,67.38 L445.79,66.40 L445.22,65.42 L444.58,64.44 L443.85,63.47 L443.05,62.49 L442.19,61.51 L441.27,60.53 L440.31,59.55 L439.32,58.57 L438.31,57.60 L437.30,56.62 L436.31,55.64 L435.34,54.66 L434.43,53.68 L433.58,52.70 L432.82,51.73 L432.15,50.75 L431.59,49.77 L431.15,48.79 L430.84,47.81 L430.67,46.84 L430.64,45.86 L430.75,44.88 L431.01,43.90 Z" fill="#d6c4de"/>
<path d="M408.33,156.60 L408.42,157.56 L408.49,158.52 L408.52,159.48 L408.53,160.45 L408.51,161.41 L408.47,162.37 L408.41,163.33 L408.32,164.29 L408.22,165.25 L408.11,166.22 L407.98,167.18 L407.85,168.14 L407.72,169.10 L407.58,170.06 L407.45,171.03 L407.33,171.99 L407.22,172.95 L407.13,173.91 L407.05,174.87 L407.00,175.83 L406.97,176.79 L406.96,177.76 L406.99,178.72 L407.05,179.68 L407.15,180.64 L407.28,181.60 L407.44,182.56 L407.64,183.53 L407.88,184.49 L408.16,185.45 L408.47,186.41 L408.81,187.37 L409.19,188.34 L409.59,189.30 L410.03,190.26 L410.49,191.22 L410.97,192.18 L411.48,193.14 L412.00,194.11 L412.53,195.07 L413.07,196.03 L413.62,196.99 L414.16,197.95 L414.71,198.91 L415.24,199.88 L415.77,200.84 L416.28,201.80 L416.76,202.76 L417.23,203.72 L417.66,204.68 L418.07,205.65 L418.44,206.61 L418.77,207.57 L419.07,208.53 L419.32,209.49 L419.52,210.45 L419.68,211.42 L419.79,212.38 L419.85,213.34 L419.86,214.30 L376.54,214.30 L376.55,213.34 L376.61,212.38 L376.72,211.42 L376.88,210.45 L377.08,209.49 L377.33,208.53 L377.63,207.57 L377.96,206.61 L378.33,205.65 L378.74,204.68 L379.17,203.72 L379.64,202.76 L380.12,201.80 L380.63,200.84 L381.16,199.88 L381.69,198.91 L382.24,197.95 L382.78,196.99 L383.33,196.03 L383.87,195.07 L384.40,194.11 L384.92,193.14 L385.43,192.18 L385.91,191.22 L386.37,190.26 L386.81,189.30 L387.21,188.34 L387.59,187.37 L387.93,186.41 L388.24,185.45 L388.52,184.49 L388.76,183.53 L388.96,182.56 L389.12,181.60 L389.25,180.64 L389.35,179.68 L389.41,178.72 L389.44,177.76 L389.43,176.79 L389.40,175.83 L389.35,174.87 L389.27,173.91 L389.18,172.95 L389.07,171.99 L388.95,171.03 L388.82,170.06 L388.68,169.10 L388.55,168.14 L388.42,167.18 L388.29,166.22 L388.18,165.25 L388.08,164.29 L387.99,163.33 L387.93,162.37 L387.89,161.41 L387.87,160.45 L387.88,159.48 L387.91,158.52 L387.98,157.56 L388.07,156.60 Z" fill="#d6c4de"/>
<path d="M478.25,156.80 L478.55,157.75 L478.67,158.70 L478.61,159.65 L478.37,160.60 L477.95,161.55 L477.37,162.50 L476.64,163.45 L475.77,164.40 L474.79,165.35 L473.71,166.30 L472.55,167.25 L471.35,168.20 L470.11,169.15 L468.87,170.10 L467.64,171.05 L466.45,172.00 L465.30,172.95 L464.23,173.90 L463.23,174.85 L462.32,175.80 L461.51,176.75 L460.80,177.70 L460.20,178.65 L459.71,179.60 L459.33,180.55 L459.06,181.50 L458.89,182.45 L458.83,183.40 L458.86,184.35 L458.99,185.30 L459.20,186.25 L459.49,187.20 L459.85,188.15 L460.29,189.10 L460.78,190.05 L461.32,191.00 L461.91,191.95 L462.54,192.90 L463.21,193.85 L463.90,194.80 L464.60,195.75 L465.32,196.70 L466.04,197.65 L466.76,198.60 L467.47,199.55 L468.16,200.50 L468.83,201.45 L469.46,202.40 L470.06,203.35 L470.61,204.30 L471.11,205.25 L471.56,206.20 L471.95,207.15 L472.27,208.10 L472.52,209.05 L472.70,210.00 L472.81,210.95 L472.84,211.90 L472.80,212.85 L472.69,213.80 L432.51,213.80 L432.40,212.85 L432.36,211.90 L432.39,210.95 L432.50,210.00 L432.68,209.05 L432.93,208.10 L433.25,207.15 L433.64,206.20 L434.09,205.25 L434.59,204.30 L435.14,203.35 L435.74,202.40 L436.37,201.45 L437.04,200.50 L437.73,199.55 L438.44,198.60 L439.16,197.65 L439.88,196.70 L440.60,195.75 L441.30,194.80 L441.99,193.85 L442.66,192.90 L443.29,191.95 L443.88,191.00 L444.42,190.05 L444.91,189.10 L445.35,188.15 L445.71,187.20 L446.00,186.25 L446.21,185.30 L446.34,184.35 L446.37,183.40 L446.31,182.45 L446.14,181.50 L445.87,180.55 L445.49,179.60 L445.00,178.65 L444.40,177.70 L443.69,176.75 L442.88,175.80 L441.97,174.85 L440.97,173.90 L439.90,172.95 L438.75,172.00 L437.56,171.05 L436.33,170.10 L435.09,169.15 L433.85,168.20 L432.65,167.25 L431.49,166.30 L430.41,165.35 L429.43,164.40 L428.56,163.45 L427.83,162.50 L427.25,161.55 L426.83,160.60 L426.59,159.65 L426.53,158.70 L426.65,157.75 L426.95,156.80 Z" fill="#d6c4de"/>
<circle cx="66.60" cy="41.60" r="1.25" fill="#4052aa"/><circle cx="69.20" cy="41.60" r="1.25" fill="#4052aa"/><circle cx="64.80" cy="43.80" r="1.25" fill="#4052aa"/><circle cx="67.90" cy="43.80" r="1.25" fill="#4052aa"/><circle cx="70.70" cy="43.80" r="1.25" fill="#4052aa"/><circle cx="66.60" cy="46.10" r="1.25" fill="#4052aa"/><circle cx="69.20" cy="46.10" r="1.25" fill="#4052aa"/><circle cx="66.60" cy="97.60" r="1.25" fill="#4052aa"/><circle cx="64.90" cy="99.80" r="1.25" fill="#4052aa"/><circle cx="68.30" cy="99.80" r="1.25" fill="#4052aa"/><circle cx="66.60" cy="102.00" r="1.25" fill="#4052aa"/><circle cx="121.50" cy="41.90" r="1.25" fill="#4052aa"/><circle cx="124.10" cy="41.90" r="1.25" fill="#4052aa"/><circle cx="120.20" cy="43.90" r="1.25" fill="#4052aa"/><circle cx="122.80" cy="43.90" r="1.25" fill="#4052aa"/><circle cx="125.30" cy="43.90" r="1.25" fill="#4052aa"/><circle cx="121.50" cy="46.00" r="1.25" fill="#4052aa"/><circle cx="124.10" cy="46.00" r="1.25" fill="#4052aa"/><circle cx="122.80" cy="48.10" r="1.25" fill="#4052aa"/><circle cx="121.70" cy="97.90" r="1.25" fill="#4052aa"/><circle cx="124.10" cy="97.90" r="1.25" fill="#4052aa"/><circle cx="120.20" cy="99.90" r="1.25" fill="#4052aa"/><circle cx="122.80" cy="99.90" r="1.25" fill="#4052aa"/><circle cx="125.30" cy="99.90" r="1.25" fill="#4052aa"/><circle cx="121.70" cy="102.00" r="1.25" fill="#4052aa"/><circle cx="124.10" cy="102.00" r="1.25" fill="#4052aa"/><circle cx="66.70" cy="153.90" r="1.25" fill="#4052aa"/><circle cx="69.30" cy="153.90" r="1.25" fill="#4052aa"/><circle cx="65.40" cy="156.20" r="1.25" fill="#4052aa"/><circle cx="68.00" cy="156.20" r="1.25" fill="#4052aa"/><circle cx="70.60" cy="156.20" r="1.25" fill="#4052aa"/><circle cx="64.20" cy="158.30" r="1.25" fill="#4052aa"/><circle cx="66.70" cy="158.30" r="1.25" fill="#4052aa"/><circle cx="69.30" cy="158.30" r="1.25" fill="#4052aa"/><circle cx="65.40" cy="160.60" r="1.25" fill="#4052aa"/><circle cx="68.00" cy="160.60" r="1.25" fill="#4052aa"/><circle cx="66.40" cy="210.20" r="1.25" fill="#4052aa"/><circle cx="69.00" cy="210.20" r="1.25" fill="#4052aa"/><circle cx="65.20" cy="212.40" r="1.25" fill="#4052aa"/><circle cx="67.70" cy="212.40" r="1.25" fill="#4052aa"/><circle cx="70.60" cy="212.40" r="1.25" fill="#4052aa"/><circle cx="66.40" cy="214.50" r="1.25" fill="#4052aa"/><circle cx="69.00" cy="214.50" r="1.25" fill="#4052aa"/><circle cx="65.20" cy="216.60" r="1.25" fill="#4052aa"/><circle cx="67.70" cy="216.60" r="1.25" fill="#4052aa"/><circle cx="121.50" cy="153.90" r="1.25" fill="#4052aa"/><circle cx="124.10" cy="153.90" r="1.25" fill="#4052aa"/><circle cx="120.20" cy="156.20" r="1.25" fill="#4052aa"/><circle cx="122.80" cy="156.20" r="1.25" fill="#4052aa"/><circle cx="125.30" cy="156.20" r="1.25" fill="#4052aa"/><circle cx="121.50" cy="158.30" r="1.25" fill="#4052aa"/><circle cx="124.10" cy="158.30" r="1.25" fill="#4052aa"/><circle cx="122.80" cy="160.60" r="1.25" fill="#4052aa"/><circle cx="121.50" cy="209.90" r="1.25" fill="#4052aa"/><circle cx="124.10" cy="209.90" r="1.25" fill="#4052aa"/><circle cx="120.20" cy="212.20" r="1.25" fill="#4052aa"/><circle cx="122.80" cy="212.20" r="1.25" fill="#4052aa"/><circle cx="125.30" cy="212.20" r="1.25" fill="#4052aa"/><circle cx="121.50" cy="214.50" r="1.25" fill="#4052aa"/><circle cx="124.10" cy="214.50" r="1.25" fill="#4052aa"/>
<circle cx="300.80" cy="41.60" r="1.12" fill="#3ca63c"/><circle cx="303.40" cy="41.60" r="1.12" fill="#3ca63c"/><circle cx="299.50" cy="43.90" r="1.12" fill="#3ca63c"/><circle cx="302.10" cy="43.90" r="1.12" fill="#3ca63c"/><circle cx="304.70" cy="43.90" r="1.12" fill="#3ca63c"/><circle cx="300.80" cy="46.10" r="1.12" fill="#3ca63c"/><circle cx="303.40" cy="46.10" r="1.12" fill="#3ca63c"/><circle cx="300.70" cy="97.70" r="1.12" fill="#3ca63c"/><circle cx="303.30" cy="97.70" r="1.12" fill="#3ca63c"/><circle cx="299.40" cy="99.90" r="1.12" fill="#3ca63c"/><circle cx="302.00" cy="99.90" r="1.12" fill="#3ca63c"/><circle cx="304.60" cy="99.90" r="1.12" fill="#3ca63c"/><circle cx="300.70" cy="102.20" r="1.12" fill="#3ca63c"/><circle cx="328.50" cy="41.70" r="1.12" fill="#3ca63c"/><circle cx="331.10" cy="41.70" r="1.12" fill="#3ca63c"/><circle cx="327.20" cy="43.90" r="1.12" fill="#3ca63c"/><circle cx="329.80" cy="43.90" r="1.12" fill="#3ca63c"/><circle cx="332.10" cy="43.90" r="1.12" fill="#3ca63c"/><circle cx="328.50" cy="45.90" r="1.12" fill="#3ca63c"/><circle cx="331.10" cy="45.90" r="1.12" fill="#3ca63c"/><circle cx="329.80" cy="48.40" r="1.12" fill="#3ca63c"/><circle cx="327.10" cy="99.90" r="1.12" fill="#3ca63c"/><circle cx="329.80" cy="99.90" r="1.12" fill="#3ca63c"/><circle cx="328.50" cy="102.20" r="1.12" fill="#3ca63c"/><circle cx="355.30" cy="101.10" r="1.12" fill="#3ca63c"/><circle cx="357.90" cy="101.10" r="1.12" fill="#3ca63c"/><circle cx="272.30" cy="151.80" r="1.12" fill="#3ca63c"/><circle cx="274.80" cy="151.80" r="1.12" fill="#3ca63c"/><circle cx="277.30" cy="151.80" r="1.12" fill="#3ca63c"/><circle cx="271.00" cy="154.20" r="1.12" fill="#3ca63c"/><circle cx="273.50" cy="154.20" r="1.12" fill="#3ca63c"/><circle cx="276.00" cy="154.20" r="1.12" fill="#3ca63c"/><circle cx="269.80" cy="156.40" r="1.12" fill="#3ca63c"/><circle cx="272.30" cy="156.40" r="1.12" fill="#3ca63c"/><circle cx="274.80" cy="156.40" r="1.12" fill="#3ca63c"/><circle cx="277.30" cy="156.40" r="1.12" fill="#3ca63c"/><circle cx="271.00" cy="158.60" r="1.12" fill="#3ca63c"/><circle cx="273.50" cy="158.60" r="1.12" fill="#3ca63c"/><circle cx="276.00" cy="158.60" r="1.12" fill="#3ca63c"/><circle cx="278.50" cy="158.60" r="1.12" fill="#3ca63c"/><circle cx="272.30" cy="160.70" r="1.12" fill="#3ca63c"/><circle cx="274.80" cy="160.70" r="1.12" fill="#3ca63c"/><circle cx="277.30" cy="160.70" r="1.12" fill="#3ca63c"/><circle cx="275.70" cy="162.80" r="1.12" fill="#3ca63c"/><circle cx="272.30" cy="208.10" r="1.12" fill="#3ca63c"/><circle cx="271.00" cy="210.30" r="1.12" fill="#3ca63c"/><circle cx="273.50" cy="210.30" r="1.12" fill="#3ca63c"/><circle cx="276.00" cy="210.30" r="1.12" fill="#3ca63c"/><circle cx="269.80" cy="212.50" r="1.12" fill="#3ca63c"/><circle cx="272.30" cy="212.50" r="1.12" fill="#3ca63c"/><circle cx="274.80" cy="212.50" r="1.12" fill="#3ca63c"/><circle cx="277.30" cy="212.50" r="1.12" fill="#3ca63c"/><circle cx="271.00" cy="214.50" r="1.12" fill="#3ca63c"/><circle cx="273.50" cy="214.50" r="1.12" fill="#3ca63c"/><circle cx="276.00" cy="214.50" r="1.12" fill="#3ca63c"/><circle cx="278.50" cy="214.50" r="1.12" fill="#3ca63c"/><circle cx="272.30" cy="216.60" r="1.12" fill="#3ca63c"/><circle cx="274.80" cy="216.60" r="1.12" fill="#3ca63c"/><circle cx="277.30" cy="216.60" r="1.12" fill="#3ca63c"/><circle cx="275.70" cy="218.80" r="1.12" fill="#3ca63c"/>
<circle cx="396.20" cy="43.90" r="1.25" fill="#6e45a0"/><circle cx="398.80" cy="43.90" r="1.25" fill="#6e45a0"/><circle cx="397.50" cy="46.20" r="1.25" fill="#6e45a0"/><circle cx="398.00" cy="101.10" r="1.25" fill="#6e45a0"/><circle cx="452.20" cy="41.70" r="1.25" fill="#6e45a0"/><circle cx="454.50" cy="41.70" r="1.25" fill="#6e45a0"/><circle cx="448.90" cy="43.50" r="1.25" fill="#6e45a0"/><circle cx="451.20" cy="43.50" r="1.25" fill="#6e45a0"/><circle cx="453.50" cy="43.50" r="1.25" fill="#6e45a0"/><circle cx="455.80" cy="43.50" r="1.25" fill="#6e45a0"/><circle cx="449.90" cy="45.70" r="1.25" fill="#6e45a0"/><circle cx="452.20" cy="45.70" r="1.25" fill="#6e45a0"/><circle cx="454.50" cy="45.70" r="1.25" fill="#6e45a0"/><circle cx="457.10" cy="45.70" r="1.25" fill="#6e45a0"/><circle cx="451.20" cy="48.00" r="1.25" fill="#6e45a0"/><circle cx="453.50" cy="48.00" r="1.25" fill="#6e45a0"/><circle cx="452.20" cy="97.70" r="1.25" fill="#6e45a0"/><circle cx="454.80" cy="97.70" r="1.25" fill="#6e45a0"/><circle cx="450.90" cy="99.90" r="1.25" fill="#6e45a0"/><circle cx="453.50" cy="99.90" r="1.25" fill="#6e45a0"/><circle cx="456.10" cy="99.90" r="1.25" fill="#6e45a0"/><circle cx="449.60" cy="102.00" r="1.25" fill="#6e45a0"/><circle cx="452.20" cy="102.00" r="1.25" fill="#6e45a0"/><circle cx="454.80" cy="102.00" r="1.25" fill="#6e45a0"/><circle cx="450.90" cy="104.20" r="1.25" fill="#6e45a0"/><circle cx="453.50" cy="104.20" r="1.25" fill="#6e45a0"/><circle cx="396.70" cy="157.70" r="1.25" fill="#6e45a0"/><circle cx="399.10" cy="157.70" r="1.25" fill="#6e45a0"/><circle cx="397.50" cy="210.20" r="1.25" fill="#6e45a0"/><circle cx="395.90" cy="212.30" r="1.25" fill="#6e45a0"/><circle cx="399.10" cy="212.30" r="1.25" fill="#6e45a0"/><circle cx="397.50" cy="214.50" r="1.25" fill="#6e45a0"/><circle cx="451.00" cy="151.80" r="1.25" fill="#6e45a0"/><circle cx="449.70" cy="154.20" r="1.25" fill="#6e45a0"/><circle cx="452.20" cy="154.20" r="1.25" fill="#6e45a0"/><circle cx="454.70" cy="154.20" r="1.25" fill="#6e45a0"/><circle cx="448.50" cy="156.40" r="1.25" fill="#6e45a0"/><circle cx="451.00" cy="156.40" r="1.25" fill="#6e45a0"/><circle cx="453.50" cy="156.40" r="1.25" fill="#6e45a0"/><circle cx="456.00" cy="156.40" r="1.25" fill="#6e45a0"/><circle cx="449.70" cy="158.50" r="1.25" fill="#6e45a0"/><circle cx="452.20" cy="158.50" r="1.25" fill="#6e45a0"/><circle cx="454.70" cy="158.50" r="1.25" fill="#6e45a0"/><circle cx="457.20" cy="158.50" r="1.25" fill="#6e45a0"/><circle cx="451.00" cy="160.60" r="1.25" fill="#6e45a0"/><circle cx="453.50" cy="160.60" r="1.25" fill="#6e45a0"/><circle cx="456.00" cy="160.60" r="1.25" fill="#6e45a0"/><circle cx="454.70" cy="162.60" r="1.25" fill="#6e45a0"/><circle cx="452.20" cy="210.20" r="1.25" fill="#6e45a0"/><circle cx="454.50" cy="210.20" r="1.25" fill="#6e45a0"/><circle cx="448.60" cy="212.20" r="1.25" fill="#6e45a0"/><circle cx="450.90" cy="212.20" r="1.25" fill="#6e45a0"/><circle cx="453.20" cy="212.20" r="1.25" fill="#6e45a0"/><circle cx="455.80" cy="212.20" r="1.25" fill="#6e45a0"/><circle cx="449.90" cy="214.30" r="1.25" fill="#6e45a0"/><circle cx="452.20" cy="214.30" r="1.25" fill="#6e45a0"/><circle cx="454.80" cy="214.30" r="1.25" fill="#6e45a0"/><circle cx="457.40" cy="214.30" r="1.25" fill="#6e45a0"/><circle cx="451.20" cy="216.50" r="1.25" fill="#6e45a0"/><circle cx="453.50" cy="216.50" r="1.25" fill="#6e45a0"/>
<line x1="160.5" y1="241.5" x2="160.5" y2="244" stroke="#d0d0d0" stroke-width="0.8"/>
<line x1="175.5" y1="241.5" x2="175.5" y2="244" stroke="#d0d0d0" stroke-width="0.8"/>
<line x1="190.7" y1="241.5" x2="190.7" y2="244" stroke="#d0d0d0" stroke-width="0.8"/>
<line x1="205.8" y1="241.5" x2="205.8" y2="244" stroke="#d0d0d0" stroke-width="0.8"/>
<line x1="220.9" y1="241.5" x2="220.9" y2="244" stroke="#d0d0d0" stroke-width="0.8"/>
<line x1="236" y1="241.5" x2="236" y2="244" stroke="#d0d0d0" stroke-width="0.8"/>
<line x1="251.1" y1="241.5" x2="251.1" y2="244" stroke="#d0d0d0" stroke-width="0.8"/>
<text x="249.5" y="13.9" font-family="Liberation Sans, sans-serif" font-size="9.9" font-weight="bold" text-anchor="middle" fill="#111" letter-spacing="-0.16">Diagnosis vs. Sex &amp; Age &amp; Blood group &amp; Longo surgery</text>
<text x="39.0" y="48.1" font-family="Liberation Sans, sans-serif" font-size="8.6" font-weight="normal" text-anchor="end" fill="#222" stroke="#222" stroke-width="0.12" >HD IV</text>
<text x="39.0" y="104.1" font-family="Liberation Sans, sans-serif" font-size="8.6" font-weight="normal" text-anchor="end" fill="#222" stroke="#222" stroke-width="0.12" >HD III</text>
<text x="39.0" y="160.0" font-family="Liberation Sans, sans-serif" font-size="8.6" font-weight="normal" text-anchor="end" fill="#222" stroke="#222" stroke-width="0.12" >HD IV</text>
<text x="39.0" y="216.1" font-family="Liberation Sans, sans-serif" font-size="8.6" font-weight="normal" text-anchor="end" fill="#222" stroke="#222" stroke-width="0.12" >HD III</text>
<text font-family="Liberation Sans, sans-serif" font-size="9" fill="#222" stroke="#222" stroke-width="0.12" text-anchor="middle" transform="translate(11.3,128.7) rotate(-90)">Diagnosis</text>
<text x="67.3" y="250.5" font-family="Liberation Sans, sans-serif" font-size="9" font-weight="normal" text-anchor="middle" fill="#222" stroke="#222" stroke-width="0.12" >Female</text>
<text x="122" y="250.5" font-family="Liberation Sans, sans-serif" font-size="9" font-weight="normal" text-anchor="middle" fill="#222" stroke="#222" stroke-width="0.12" >Male</text>
<text x="398.2" y="250.5" font-family="Liberation Sans, sans-serif" font-size="9" font-weight="normal" text-anchor="middle" fill="#222" stroke="#222" stroke-width="0.12" >No</text>
<text x="453" y="250.5" font-family="Liberation Sans, sans-serif" font-size="9" font-weight="normal" text-anchor="middle" fill="#222" stroke="#222" stroke-width="0.12" >Yes</text>
<text x="160.3" y="253.5" font-family="Liberation Sans, sans-serif" font-size="9" font-weight="normal" text-anchor="middle" fill="#222" stroke="#222" stroke-width="0.12" >20</text>
<text x="175.4" y="253.5" font-family="Liberation Sans, sans-serif" font-size="9" font-weight="normal" text-anchor="middle" fill="#222" stroke="#222" stroke-width="0.12" >30</text>
<text x="190.5" y="253.5" font-family="Liberation Sans, sans-serif" font-size="9" font-weight="normal" text-anchor="middle" fill="#222" stroke="#222" stroke-width="0.12" >40</text>
<text x="205.6" y="253.5" font-family="Liberation Sans, sans-serif" font-size="9" font-weight="normal" text-anchor="middle" fill="#222" stroke="#222" stroke-width="0.12" >50</text>
<text x="220.7" y="253.5" font-family="Liberation Sans, sans-serif" font-size="9" font-weight="normal" text-anchor="middle" fill="#222" stroke="#222" stroke-width="0.12" >60</text>
<text x="235.9" y="253.5" font-family="Liberation Sans, sans-serif" font-size="9" font-weight="normal" text-anchor="middle" fill="#222" stroke="#222" stroke-width="0.12" >70</text>
<text x="251" y="253.5" font-family="Liberation Sans, sans-serif" font-size="9" font-weight="normal" text-anchor="middle" fill="#222" stroke="#222" stroke-width="0.12" >80</text>
<text x="274.3" y="251.2" font-family="Liberation Sans, sans-serif" font-size="8" font-weight="normal" text-anchor="middle" fill="#222" stroke="#222" stroke-width="0.12" >I (0)</text>
<text x="301.7" y="251.2" font-family="Liberation Sans, sans-serif" font-size="8" font-weight="normal" text-anchor="middle" fill="#222" stroke="#222" stroke-width="0.12" >II (A)</text>
<text x="328.6" y="251.2" font-family="Liberation Sans, sans-serif" font-size="8" font-weight="normal" text-anchor="middle" fill="#222" stroke="#222" stroke-width="0.12" >III (B)</text>
<text x="356.2" y="251.2" font-family="Liberation Sans, sans-serif" font-size="8" font-weight="normal" text-anchor="middle" fill="#222" stroke="#222" stroke-width="0.12" >IV (AB)</text>
<g transform="translate(94.3,264.8) scale(1,1.1)"><text x="0" y="0" font-family="Liberation Sans, sans-serif" font-size="9.1" font-weight="normal" text-anchor="middle" fill="#222" stroke="#222" stroke-width="0.12" >Sex</text></g>
<g transform="translate(204.7,264.8) scale(1,1.1)"><text x="0" y="0" font-family="Liberation Sans, sans-serif" font-size="9.1" font-weight="normal" text-anchor="middle" fill="#222" stroke="#222" stroke-width="0.12" >Age, Years</text></g>
<g transform="translate(314.8,264.8) scale(1,1.1)"><text x="0" y="0" font-family="Liberation Sans, sans-serif" font-size="9.1" font-weight="normal" text-anchor="middle" fill="#222" stroke="#222" stroke-width="0.12" >Blood group</text></g>
<g transform="translate(425.6,264.8) scale(1,1.1)"><text x="0" y="0" font-family="Liberation Sans, sans-serif" font-size="9.1" font-weight="normal" text-anchor="middle" fill="#222" stroke="#222" stroke-width="0.12" >Longo surgery procedure</text></g>
<text font-family="Liberation Sans, sans-serif" font-size="7.8" fill="#222" stroke="#222" stroke-width="0.12" text-anchor="middle" transform="translate(489.1,73.2) rotate(-90)">No</text>
<text font-family="Liberation Sans, sans-serif" font-size="7.8" fill="#222" stroke="#222" stroke-width="0.12" text-anchor="middle" transform="translate(487.9,177.8) rotate(-90)">Yes</text>
<text font-family="Liberation Sans, sans-serif" font-size="7.8" fill="#222" stroke="#222" stroke-width="0.12" text-anchor="middle" transform="translate(498.8,125.8) rotate(-90)">I (0)</text></svg></body></html>
